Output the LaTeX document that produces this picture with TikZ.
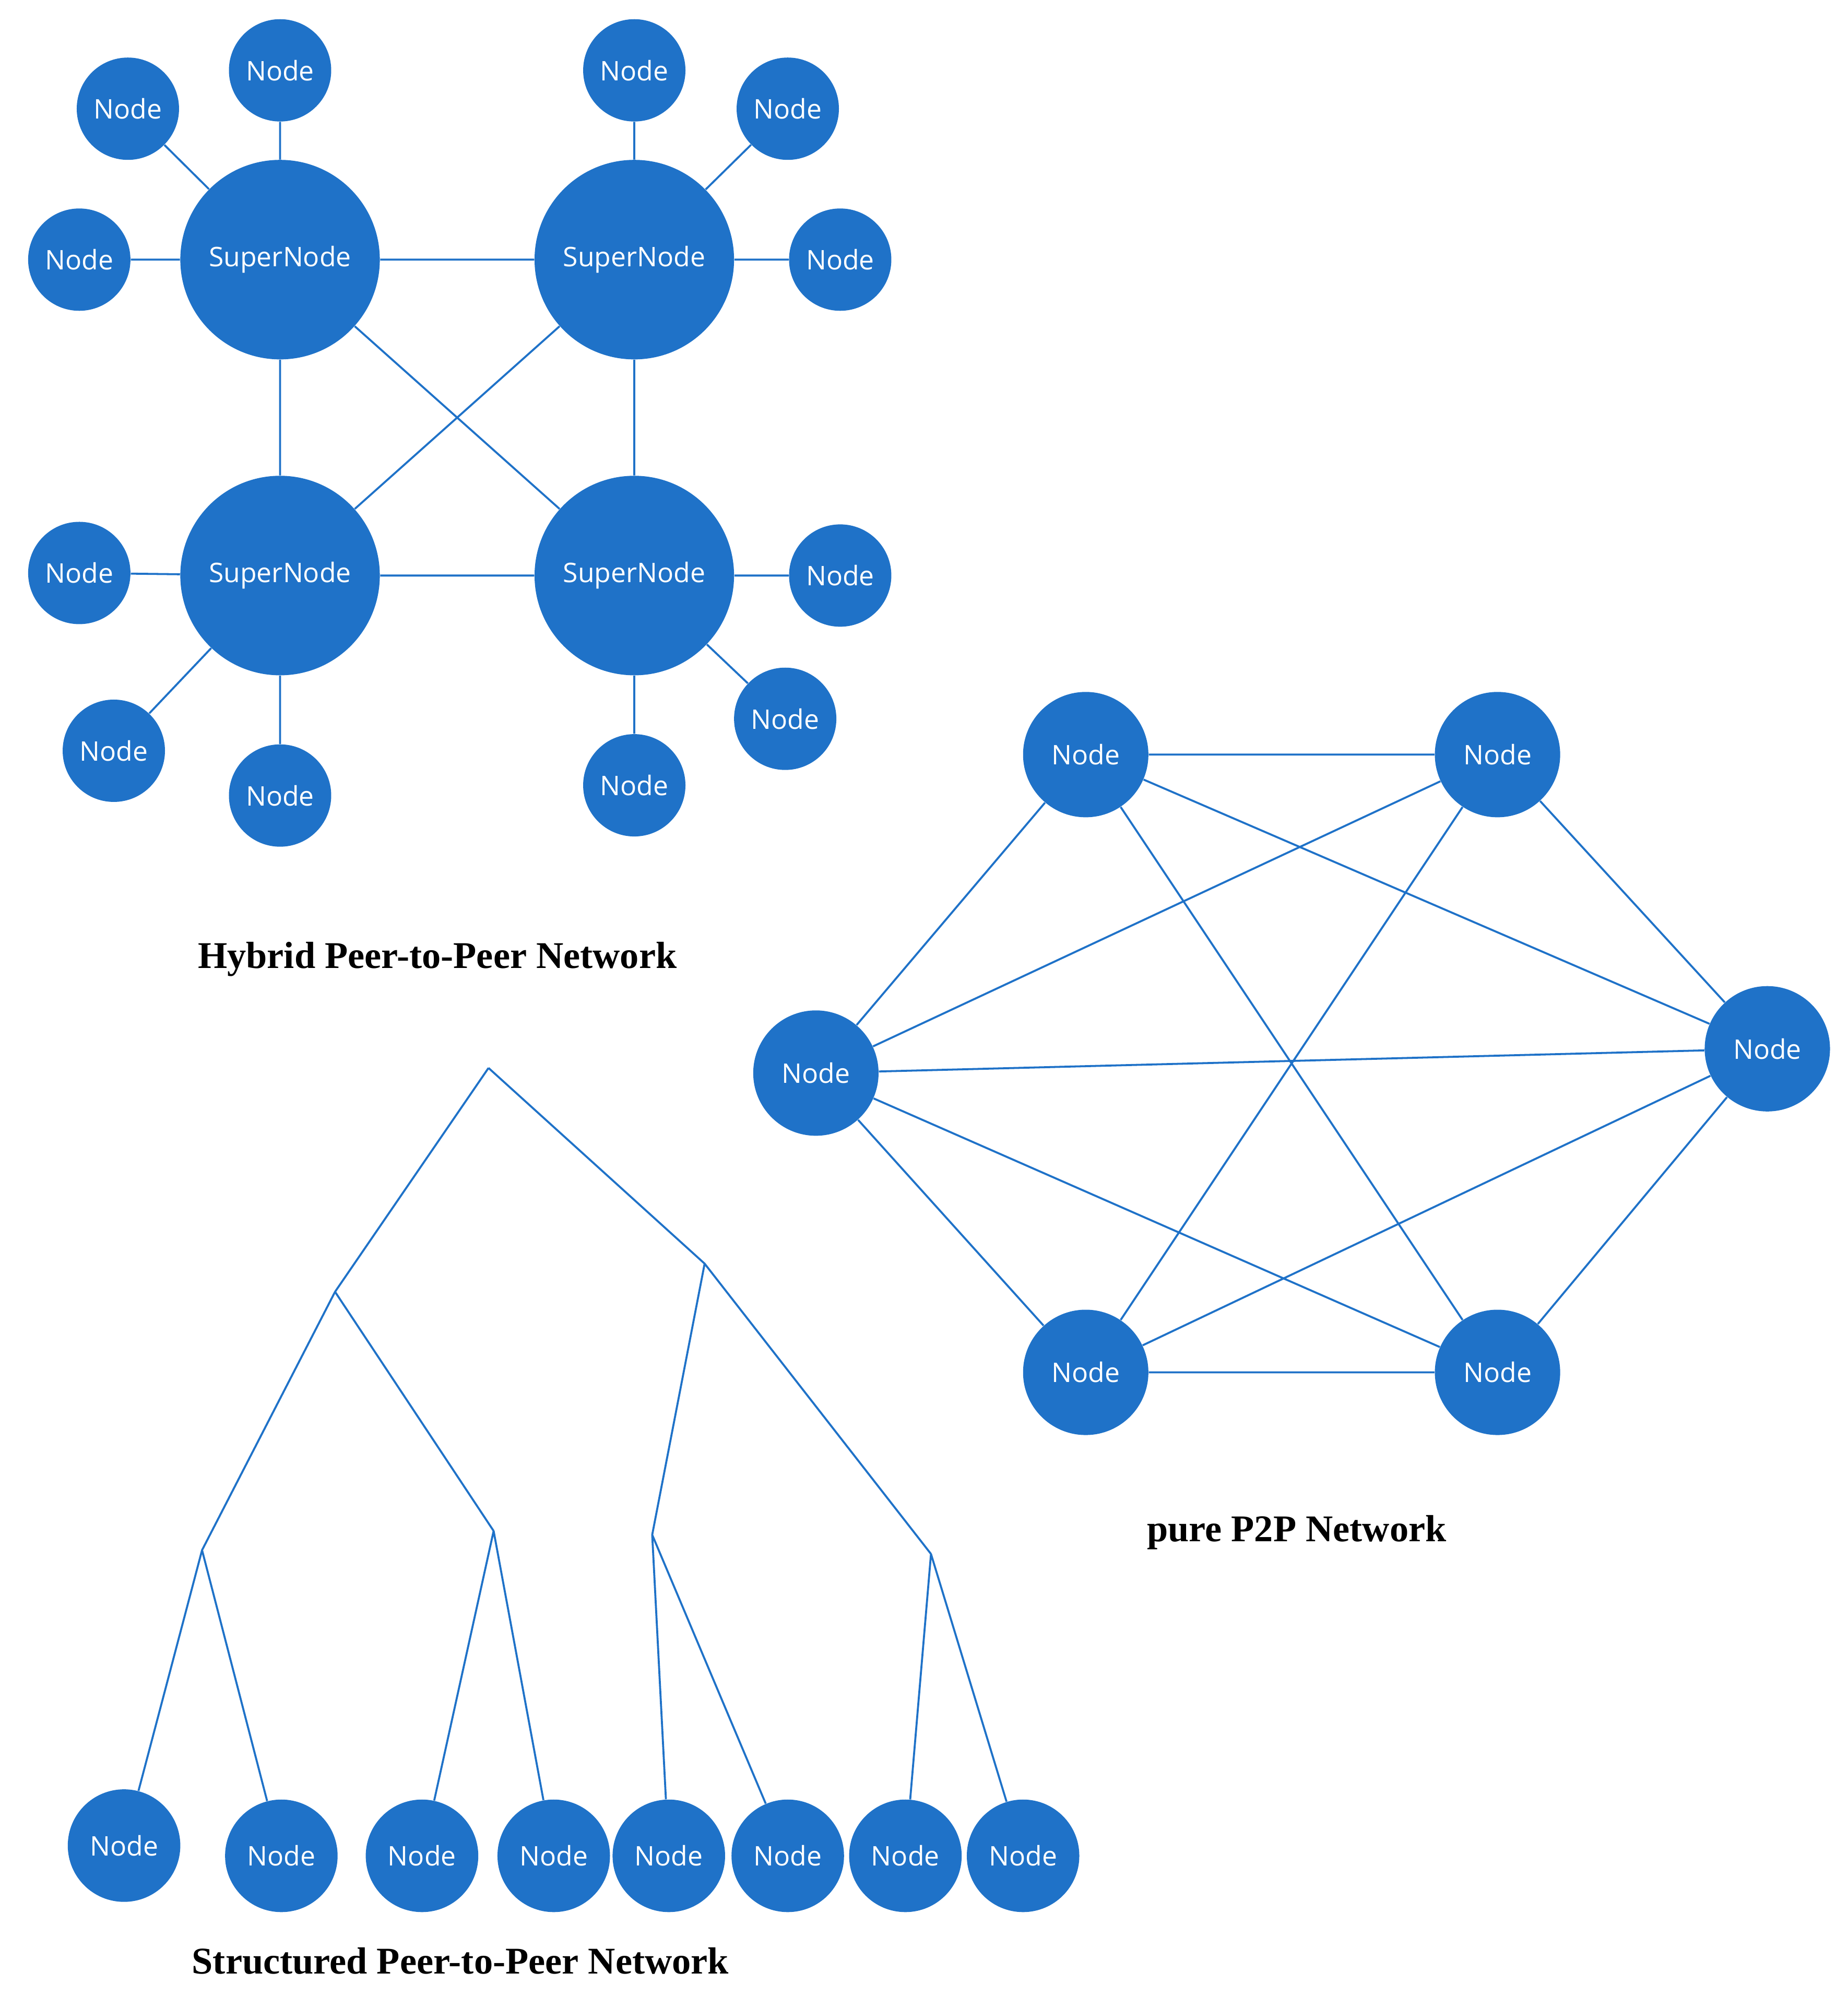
\documentclass[tikz,border=0pt]{standalone}
\usepackage{fontspec}
\setmainfont{Liberation Serif}
\newfontfamily\nodefont{Open Sans}
\begin{document}
\begin{tikzpicture}[x=0.025cm,y=-0.025cm,
  bl/.style={fill={rgb,255:red,31;green,114;blue,200},draw=none,circle,text=white,inner sep=0pt,font=\nodefont\fontsize{15}{17}\selectfont},
  sn/.style={bl,minimum size=156*0.025cm},
  nd/.style={bl,minimum size=80*0.025cm},
  pn/.style={bl,minimum size=98*0.025cm},
  ln/.style={bl,minimum size=88*0.025cm},
  ed/.style={draw={rgb,255:red,31;green,114;blue,200},line width=1.1pt},
  ttl/.style={font=\bfseries\fontsize{21}{24}\selectfont}]
\useasboundingbox (0,0) rectangle (1445,1570);
% Hybrid
\node[sn] (s1) at (219,203) {SuperNode};
\node[sn] (s2) at (496,203) {SuperNode};
\node[sn] (s3) at (219,450) {SuperNode};
\node[sn] (s4) at (496,450) {SuperNode};
\node[nd] (a1) at (219,55) {Node};
\node[nd] (a2) at (100,85) {Node};
\node[nd] (a3) at (62,203) {Node};
\node[nd] (b1) at (496,55) {Node};
\node[nd] (b2) at (616,85) {Node};
\node[nd] (b3) at (657,203) {Node};
\node[nd] (c1) at (62,448) {Node};
\node[nd] (c2) at (89,587) {Node};
\node[nd] (c3) at (219,622) {Node};
\node[nd] (d1) at (657,450) {Node};
\node[nd] (d2) at (614,562) {Node};
\node[nd] (d3) at (496,614) {Node};
\path[ed] (s1)--(s2) (s1)--(s3) (s2)--(s4) (s3)--(s4) (s1)--(s4) (s2)--(s3)
  (s1)--(a1) (s1)--(a2) (s1)--(a3) (s2)--(b1) (s2)--(b2) (s2)--(b3)
  (s3)--(c1) (s3)--(c2) (s3)--(c3) (s4)--(d1) (s4)--(d2) (s4)--(d3);
\node[ttl] (t1) at (342,750) {Hybrid Peer-to-Peer Network};
% Pure
\node[pn] (pa) at (849,590) {Node};
\node[pn] (pb) at (1171,590) {Node};
\node[pn] (pc) at (638,839) {Node};
\node[pn] (pd) at (1382,820) {Node};
\node[pn] (pe) at (849,1073) {Node};
\node[pn] (pf) at (1171,1073) {Node};
\path[ed] (pa)--(pb) (pa)--(pc) (pa)--(pf) (pa)--(pd) (pb)--(pc) (pb)--(pe) (pb)--(pd)
  (pc)--(pd) (pc)--(pe) (pc)--(pf) (pd)--(pe) (pd)--(pf) (pe)--(pf);
\node[ttl] (t2) at (1014,1198) {pure P2P Network};
% Structured
\coordinate (r) at (382,835);
\coordinate (m1) at (262,1010);
\coordinate (m2) at (551,988);
\coordinate (k1) at (158,1212);
\coordinate (k2) at (386,1197);
\coordinate (k3) at (510,1200);
\coordinate (k4) at (728,1215);
\node[ln] (l1) at (97,1443) {Node};
\node[ln] (l2) at (220,1451) {Node};
\node[ln] (l3) at (330,1451) {Node};
\node[ln] (l4) at (433,1451) {Node};
\node[ln] (l5) at (523,1451) {Node};
\node[ln] (l6) at (616,1451) {Node};
\node[ln] (l7) at (708,1451) {Node};
\node[ln] (l8) at (800,1451) {Node};
\path[ed] (r)--(m1) (r)--(m2) (m1)--(k1) (m1)--(k2) (m2)--(k3) (m2)--(k4)
  (k1)--(l1) (k1)--(l2) (k2)--(l3) (k2)--(l4) (k3)--(l5) (k3)--(l6) (k4)--(l7) (k4)--(l8);
\node[ttl] (t3) at (360,1533) {Structured Peer-to-Peer Network};
\end{tikzpicture}
\end{document}
